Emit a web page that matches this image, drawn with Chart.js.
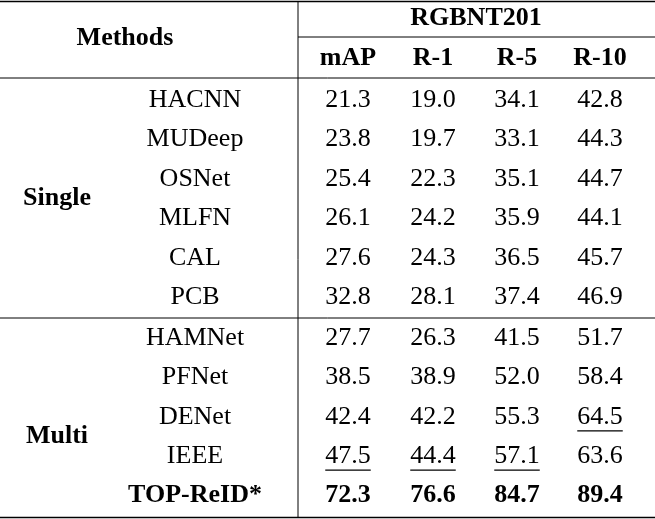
<!DOCTYPE html>
<html><head><meta charset="utf-8">
<script src="https://cdn.jsdelivr.net/npm/chart.js@4"></script>
<style>html,body{margin:0;padding:0;background:#fff}</style>
</head><body>
<canvas id="c" width="655" height="519"></canvas>
<script>
const methods = ['HACNN','MUDeep','OSNet','MLFN','CAL','PCB','HAMNet','PFNet','DENet','IEEE','TOP-ReID*'];
const groups = ['Single','Multi'];
const metrics = ['mAP','R-1','R-5','R-10'];
const mAP = [21.3,23.8,25.4,26.1,27.6,32.8,27.7,38.5,42.4,47.5,72.3];
const r1  = [19.0,19.7,22.3,24.2,24.3,28.1,26.3,38.9,42.2,44.4,76.6];
const r5  = [34.1,33.1,35.1,35.9,36.5,37.4,41.5,52.0,55.3,57.1,84.7];
const r10 = [42.8,44.3,44.7,44.1,45.7,46.9,51.7,58.4,64.5,63.6,89.4];
const series = [mAP,r1,r5,r10];
const underline = [[9],[9],[9],[8]];

const colX = [57,195,348,433,517,600];
const rowY = i => i<6 ? 100+39.5*i : 338+39.4*(i-6);
const serif = '"Liberation Serif","DejaVu Serif",serif';

const pts = [];
series.forEach((s,c)=>s.forEach((v,r)=>pts.push({x:colX[c+2],y:rowY(r),v:v.toFixed(1),c,r})));

const tablePlugin = {
  id:'table',
  afterDraw(ch){
    const g=ch.ctx, X=ch.scales.x, Y=ch.scales.y;
    const px=v=>X.getPixelForValue(v), py=v=>Y.getPixelForValue(v);
    g.save();
    g.fillStyle='#000'; g.strokeStyle='#000';
    g.textAlign='center'; g.textBaseline='middle';
    const line=(x1,y1,x2,y2,w)=>{g.lineWidth=w;g.beginPath();g.moveTo(px(x1),py(y1));g.lineTo(px(x2),py(y2));g.stroke();};
    line(0,1.5,655,1.5,1.5); line(298,37,655,37,1); line(0,78,655,78,1);
    line(0,318,655,318,1); line(0,517.5,655,517.5,1.5); line(298,1,298,518,1);
    g.font='bold 26px '+serif;
    g.fillText('Methods',px(125),py(38));
    g.fillText('RGBNT201',px(476),py(18));
    metrics.forEach((m,i)=>g.fillText(m,px(colX[i+2]),py(58)));
    g.fillText(groups[0],px(colX[0]),py(198));
    g.fillText(groups[1],px(colX[0]),py(436));
    methods.forEach((m,r)=>{
      g.font=(r===10?'bold ':'')+'26px '+serif;
      g.fillText(m,px(colX[1]),py(rowY(r)));
    });
    ch.data.datasets[0].data.forEach(p=>{
      g.font=(p.r===10?'bold ':'')+'26px '+serif;
      g.fillText(p.v,px(p.x),py(p.y));
      if(underline[p.c].includes(p.r)){
        const w=g.measureText(p.v).width;
        line(p.x-w/2,p.y+14,p.x+w/2,p.y+14,1.2);
      }
    });
    g.restore();
  }
};

new Chart(document.getElementById('c'),{
  type:'scatter',
  data:{datasets:[{data:pts,pointRadius:0}]},
  options:{
    responsive:false,animation:false,
    layout:{padding:0},
    plugins:{legend:{display:false},tooltip:{enabled:false}},
    scales:{
      x:{type:'linear',min:0,max:655,display:false},
      y:{type:'linear',min:0,max:519,reverse:true,display:false}
    }
  },
  plugins:[tablePlugin]
});
</script>
</body></html>
